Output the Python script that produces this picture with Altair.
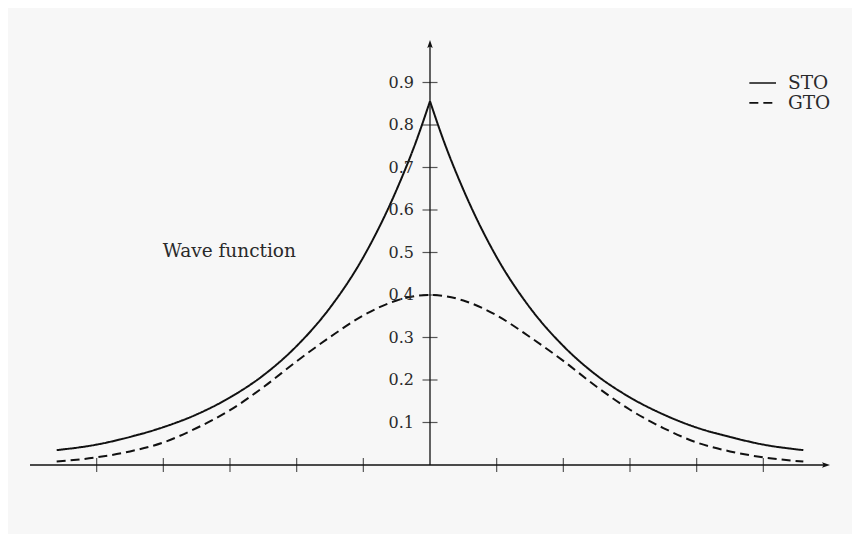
import altair as alt
import pandas as pd

# ---- data ----
x_pts = [-2.8, -2.5, -2.25, -2.0, -1.75, -1.5, -1.25, -1.0, -0.75, -0.5, -0.25, -0.1, 0.0,
         0.1, 0.25, 0.5, 0.75, 1.0, 1.25, 1.5, 1.75, 2.0, 2.25, 2.5, 2.8]
sto_vals = [0.035, 0.048, 0.066, 0.089, 0.119, 0.159, 0.211, 0.280, 0.370, 0.489, 0.648, 0.765, 0.856,
            0.765, 0.648, 0.489, 0.370, 0.280, 0.211, 0.159, 0.119, 0.088, 0.066, 0.048, 0.035]
gto_vals = [0.008, 0.018, 0.032, 0.053, 0.087, 0.129, 0.183, 0.244, 0.301, 0.352, 0.387, 0.398, 0.400,
            0.398, 0.387, 0.352, 0.301, 0.245, 0.184, 0.130, 0.087, 0.053, 0.032, 0.018, 0.008]

x_ticks = [-2.5, -2.0, -1.5, -1.0, -0.5, 0.5, 1.0, 1.5, 2.0, 2.5]
y_ticks = [0.1, 0.2, 0.3, 0.4, 0.5, 0.6, 0.7, 0.8, 0.9]
y_labels = ["0.1", "0.2", "0.3", "0.4", "0.5", "0.6", "0.7", "0.8", "0.9"]

series_names = ["STO", "GTO"]
legend_x = [2.395, 2.595]
legend_y = [0.899, 0.852]
legend_text_x = 2.685
title_text = "Wave function"
title_pos = (-1.505, 0.49)

x_domain = [-3.0, 3.0]
y_domain = [0.0, 1.0]

# ---- tables ----
rows = []
for xv, sv, gv in zip(x_pts, sto_vals, gto_vals):
    if xv <= 0:
        rows.append({"x": xv, "y": sv, "series": "STO", "part": "STO-L"})
    if xv >= 0:
        rows.append({"x": xv, "y": sv, "series": "STO", "part": "STO-R"})
    rows.append({"x": xv, "y": gv, "series": "GTO", "part": "GTO"})
curves = pd.DataFrame(rows)

leg_rows = []
for name, ly in zip(series_names, legend_y):
    for lx in legend_x:
        leg_rows.append({"x": lx, "y": ly, "series": name})
leg_lines = pd.DataFrame(leg_rows)
leg_text = pd.DataFrame({"x": [legend_text_x] * 2, "y": legend_y, "label": series_names})

xt = pd.DataFrame({"x": x_ticks, "y": [0.0] * len(x_ticks)})
yt = pd.DataFrame({"x": [0.0] * len(y_ticks), "y": y_ticks, "label": y_labels})

axes_df = pd.DataFrame({"x": [x_domain[0], 0.0], "x2": [x_domain[1] - 0.03, 0.0],
                        "y": [0.0, 0.0], "y2": [0.0, y_domain[1] - 0.01]})
arrow_x = pd.DataFrame({"x": [x_domain[1]], "y": [0.0]})
arrow_y = pd.DataFrame({"x": [0.0], "y": [y_domain[1]]})

xs = alt.Scale(domain=x_domain, nice=False, zero=False)
ys = alt.Scale(domain=y_domain, nice=False, zero=False)
dash_scale = alt.Scale(domain=series_names, range=[[1, 0], [9, 5]])

INK = "#111111"
TXT = "#2a2a2a"
FONT = "DejaVu Serif"

X = lambda f="x": alt.X(f"{f}:Q", scale=xs, axis=None)
Y = lambda f="y": alt.Y(f"{f}:Q", scale=ys, axis=None)

curve_layer = alt.Chart(curves).mark_line(
    color=INK, strokeWidth=2, interpolate="monotone"
).encode(
    x=X(), y=Y(),
    strokeDash=alt.StrokeDash("series:N", scale=dash_scale, legend=None),
    detail="part:N",
    order="x:Q",
)

axis_lines = alt.Chart(axes_df).mark_rule(color=INK, strokeWidth=1.3).encode(
    x=X(), x2="x2:Q", y=Y(), y2="y2:Q"
)

arrow_r = alt.Chart(arrow_x).mark_point(
    shape="M0,0 L-1,-0.34 L-0.8,0 L-1,0.34 Z", size=256, filled=True,
    color=INK, opacity=1, strokeWidth=0
).encode(x=X(), y=Y())

arrow_u = alt.Chart(arrow_y).mark_point(
    shape="M0,0 L-0.34,1 L0,0.8 L0.34,1 Z", size=256, filled=True,
    color=INK, opacity=1, strokeWidth=0
).encode(x=X(), y=Y())

x_tick_marks = alt.Chart(xt).mark_tick(
    orient="vertical", size=14, thickness=1.2, color=INK
).encode(x=X(), y=Y())

y_tick_marks = alt.Chart(yt).mark_tick(
    orient="horizontal", size=15, thickness=1.2, color=INK
).encode(x=X(), y=Y())

y_tick_labels = alt.Chart(yt).mark_text(
    align="right", baseline="middle", dx=-16, font=FONT, fontSize=16, color=TXT
).encode(x=X(), y=Y(), text="label:N")

title_layer = alt.Chart(pd.DataFrame({"x": [title_pos[0]], "y": [title_pos[1]], "t": [title_text]})).mark_text(
    align="center", baseline="alphabetic", font=FONT, fontSize=18.5, color=TXT
).encode(x=X(), y=Y(), text="t:N")

legend_line_layer = alt.Chart(leg_lines).mark_line(color=INK, strokeWidth=1.6).encode(
    x=X(), y=Y(),
    strokeDash=alt.StrokeDash("series:N", scale=dash_scale, legend=None),
    detail="series:N",
)

legend_text_layer = alt.Chart(leg_text).mark_text(
    align="left", baseline="middle", font=FONT, fontSize=18.5, color=TXT, clip=True
).encode(x=X(), y=Y(), text="label:N")

chart = alt.layer(
    curve_layer, axis_lines, arrow_r, arrow_u, x_tick_marks, y_tick_marks,
    y_tick_labels, title_layer, legend_line_layer, legend_text_layer
).properties(
    width=800, height=425,
    autosize=alt.AutoSizeParams(type="none"),
    padding={"left": 22, "top": 32, "right": 22, "bottom": 69},
    background="#f7f7f7",
).configure_view(stroke=None)

chart.save("out.html", embed_options={"renderer": "svg", "actions": False})
